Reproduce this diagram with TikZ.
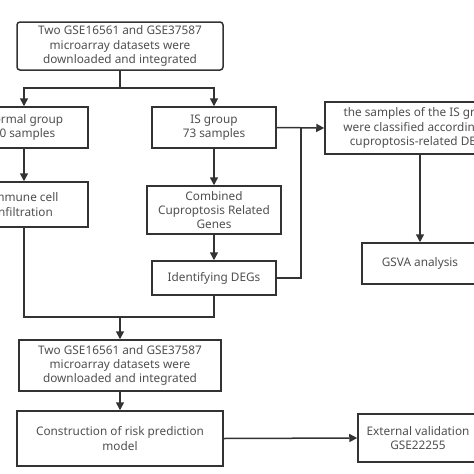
\documentclass[tikz,border=0pt]{standalone}
\usepackage{fontspec}
\setmainfont{Noto Sans}
\usetikzlibrary{arrows.meta}
\definecolor{txt}{HTML}{505050}
\definecolor{ln}{HTML}{333333}
\tikzset{
  box/.style={draw=ln, line width=1.5pt, rectangle, align=center, text=txt, inner sep=0pt,
    font=\fontsize{11.8}{14.2}\selectfont},
  arr/.style={draw=ln, line width=1.5pt, -{Triangle[length=8pt,width=8pt]}},
  ln/.style={draw=ln, line width=1.5pt},
}
\begin{document}
\begin{tikzpicture}[x=1pt,y=-1pt]
\useasboundingbox (0,0) rectangle (474,474);
\clip (0,0) rectangle (474,474);
\fill[white] (0,0) rectangle (474,474);
\node[box, rounded corners=3pt, minimum width=206pt, minimum height=48pt] (top) at (120,46) {Two GSE16561 and GSE37587\\microarray datasets were\\downloaded and integrated};
\node[box, minimum width=128pt, minimum height=41pt] (normal) at (24,127.5) {Normal group\\50 samples};
\node[box, minimum width=124pt, minimum height=41pt] (is) at (214,127.5) {IS group\\73 samples};
\node[box, minimum width=190pt, minimum height=52pt] (cls) at (420,128) {the samples of the IS group\\were classified according to\\cuproptosis-related DEGs};
\node[box, minimum width=128pt, minimum height=45pt] (imm) at (24,204.5) {Immune cell\\infiltration};
\node[box, minimum width=134pt, minimum height=48pt] (comb) at (214,210) {Combined\\Cuproptosis Related\\Genes};
\node[box, minimum width=124pt, minimum height=34pt] (ident) at (214,278) {Identifying DEGs};
\node[box, minimum width=116pt, minimum height=41pt] (gsva) at (420,263.5) {GSVA analysis};
\node[box, minimum width=202pt, minimum height=51pt] (second) at (120,365.5) {Two GSE16561 and GSE37587\\microarray datasets were\\downloaded and integrated};
\node[box, minimum width=206pt, minimum height=55pt] (cons) at (120,438.5) {Construction of risk prediction\\model};
\node[box, minimum width=120pt, minimum height=48pt] (ext) at (418,438) {External validation\\GSE22255};
\coordinate (split) at (120,88);
\coordinate (merge) at (120,317);
\coordinate (join) at (301,128);
\draw[ln] (top.south) -- (split);
\draw[arr] (split) -| (normal.north);
\draw[arr] (split) -| (is.north);
\draw[arr] (normal) -- (imm);
\draw[arr] (is) -- (comb);
\draw[arr] (comb) -- (ident);
\draw[arr] (is.east) -- (cls.west);
\draw[ln] (ident.east) -| (join);
\draw[arr] (cls.south) -- (gsva.north);
\draw[ln] (imm.south) |- (merge);
\draw[ln] (ident.south) |- (merge);
\draw[arr] (merge) -- (second.north);
\draw[arr] (second) -- (cons);
\draw[arr] (cons.east) -- (ext.west);
\end{tikzpicture}
\end{document}
